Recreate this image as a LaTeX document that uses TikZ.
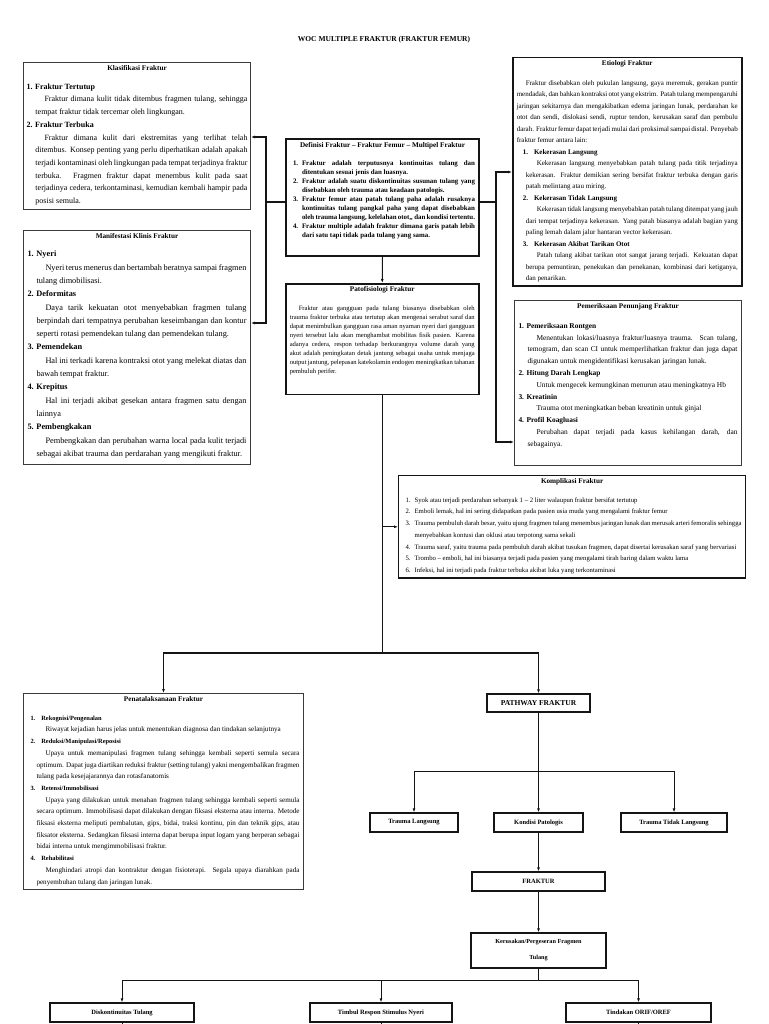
\documentclass[tikz,border=0pt]{standalone}
\usepackage{fontspec}
\setmainfont{Liberation Serif}
\usetikzlibrary{positioning,arrows.meta}
\definecolor{wocink}{HTML}{151515}
\definecolor{wocgray}{HTML}{3A3A3A}
\hyphenpenalty=10000
\exhyphenpenalty=10000
\tolerance=9000
\emergencystretch=30pt
\newcommand{\boxhead}[1]{\centerline{\textbf{#1}}\par}
\newcommand{\subhead}[1]{\noindent\textbf{#1}\par}
\newcommand{\subtext}[1]{{\leftskip=9pt\noindent\hspace*{9pt}#1\par}}
\newcommand{\numline}[2]{{\hangindent=12pt\hangafter=1\noindent\hspace*{3pt}\hbox to 9pt{#1\hss}#2\par}}
\newcommand{\boxtail}[1]{\par\vspace{#1}\hrule height 0pt}

\begin{document}
\begin{tikzpicture}[x=1pt,y=-1pt,
  infobox/.style={draw=wocgray,line width=1pt,anchor=north west,align=justify,inner xsep=4pt,inner ysep=3pt},
  flowbox/.style={draw=wocink,line width=1.3pt,font=\bfseries\fontsize{6.5}{8}\selectfont,minimum height=19pt,inner sep=1pt},
  link/.style={draw=wocink,line width=1pt},
  thicklink/.style={draw=wocink,line width=1.5pt},
  arr/.style={link,-{Latex[length=4pt,width=3pt]}}]
  \useasboundingbox (0,0) rectangle (768,1024);

  \node[font=\bfseries\fontsize{7.5}{9}\selectfont] (judul) at (384,40) {WOC MULTIPLE FRAKTUR (FRAKTUR FEMUR)};

  \node[infobox,inner xsep=3pt,text width=221pt,font=\fontsize{8.0}{12.7}\selectfont] (klasifikasi) at (23,62) {%
    \boxhead{\fontsize{7.2}{9}\selectfont Klasifikasi Fraktur}\vspace{6pt}
    \subhead{1. Fraktur Tertutup}
    \subtext{Fraktur dimana kulit tidak ditembus fragmen tulang, sehingga tempat fraktur tidak tercemar oleh lingkungan.}
    \subhead{2. Fraktur Terbuka}
    \subtext{Fraktur dimana kulit dari ekstremitas yang terlihat telah ditembus. Konsep penting yang perlu diperhatikan adalah apakah terjadi kontaminasi oleh lingkungan pada tempat terjadinya fraktur terbuka. Fragmen fraktur dapat menembus kulit pada saat terjadinya cedera, terkontaminasi, kemudian kembali hampir pada posisi semula.}
    \boxtail{1pt}};

  \node[infobox,text width=219pt,font=\fontsize{8.3}{13.3}\selectfont] (manifestasi) at (23,230) {%
    \boxhead{\fontsize{7.2}{9}\selectfont Manifestasi Klinis Fraktur}\vspace{5pt}
    \subhead{1. Nyeri}
    \subtext{Nyeri terus menerus dan bertambah beratnya sampai fragmen tulang dimobilisasi.}
    \subhead{2. Deformitas}
    \subtext{Daya tarik kekuatan otot menyebabkan fragmen tulang berpindah dari tempatnya perubahan keseimbangan dan kontur seperti rotasi pemendekan tulang dan pemendekan tulang.}
    \subhead{3. Pemendekan}
    \subtext{Hal ini terkadi karena kontraksi otot yang melekat diatas dan bawah tempat fraktur.}
    \subhead{4. Krepitus}
    \subtext{Hal ini terjadi akibat gesekan antara fragmen satu dengan lainnya}
    \subhead{5. Pembengkakan}
    \subtext{Pembengkakan dan perubahan warna local pada kulit terjadi sebagai akibat trauma dan perdarahan yang mengikuti fraktur.}
    \boxtail{3pt}};

  \node[infobox,draw=wocink,line width=2pt,text width=185pt,font=\bfseries\fontsize{6.9}{9}\selectfont] (definisi) at (285,138) {%
    \boxhead{\fontsize{7.2}{9}\selectfont Definisi Fraktur -- Fraktur Femur -- Multipel Fraktur}\vspace{9pt}
    \numline{1.}{Fraktur adalah terputusnya kontinuitas tulang dan ditentukan sesuai jenis dan luasnya.}
    \numline{2.}{Fraktur adalah suatu diskontinuitas susunan tulang yang disebabkan oleh trauma atau keadaan patologis.}
    \numline{3.}{Fraktur femur atau patah tulang paha adalah rusaknya kontinuitas tulang pangkal paha yang dapat disebabkan oleh trauma langsung, kelelahan otot,, dan kondisi tertentu.}
    \numline{4.}{Fraktur multiple adalah fraktur dimana garis patah lebih dari satu tapi tidak pada tulang yang sama.}
    \boxtail{14pt}};

  \node[infobox,draw=wocink,line width=1.5pt,text width=185pt,font=\fontsize{6.6}{8.9}\selectfont] (patofisiologi) at (285,283) {%
    \vspace*{3pt}\boxhead{\fontsize{7.2}{9}\selectfont Patofisiologi Fraktur}\vspace{7pt}
    \noindent\hspace*{9pt}Fraktur atau gangguan pada tulang biasanya disebabkan oleh trauma fraktur terbuka atau tertutup akan mengenai serabut saraf dan dapat menimbulkan gangguan rasa aman nyaman nyeri dari gangguan nyeri tersebut lalu akan menghambat mobilitas fisik pasien. Karena adanya cedera, respon terhadap berkurangnya volume darah yang akut adalah peningkatan detak jantung sebagai usaha untuk menjaga output jantung, pelepasan katekolamin endogen meningkatkan tahanan pembuluh perifer.
    \boxtail{17pt}};

  \node[infobox,draw=wocink,line width=1.5pt,text width=221pt,font=\fontsize{7.0}{11.5}\selectfont] (etiologi) at (512,57) {%
    \boxhead{\fontsize{7.2}{9}\selectfont Etiologi Fraktur}\vspace{8pt}
    \noindent\hspace*{9pt}Fraktur disebabkan oleh pukulan langsung, gaya meremuk, gerakan puntir mendadak, dan bahkan kontraksi otot yang ekstrim. Patah tulang mempengaruhi jaringan sekitarnya dan mengakibatkan edema jaringan lunak, perdarahan ke otot dan sendi, dislokasi sendi, ruptur tendon, kerusakan saraf dan pembulu darah. Fraktur femur dapat terjadi mulai dari proksimal sampai distal. Penyebab fraktur femur antara lain:\par
    \subhead{\hspace*{6pt}1.\hspace{6pt}Kekerasan Langsung}
    \subtext{\hspace*{2pt}Kekerasan langsung menyebabkan patah tulang pada titik terjadinya kekerasan. Fraktur demikian sering bersifat fraktur terbuka dengan garis patah melintang atau miring.}
    \subhead{\hspace*{6pt}2.\hspace{6pt}Kekerasan Tidak Langsung}
    \subtext{\hspace*{2pt}Kekerasan tidak langsung menyebabkan patah tulang ditempat yang jauh dari tempat terjadinya kekerasan. Yang patah biasanya adalah bagian yang paling lemah dalam jalur hantaran vector kekerasan.}
    \subhead{\hspace*{6pt}3.\hspace{6pt}Kekerasan Akibat Tarikan Otot}
    \subtext{\hspace*{2pt}Patah tulang akibat tarikan otot sangat jarang terjadi. Kekuatan dapat berupa pemuntiran, penekukan dan penekanan, kombinasi dari ketiganya, dan penarikan.}
    \boxtail{1pt}};

  \node[infobox,text width=219pt,font=\fontsize{7.4}{11.8}\selectfont] (pemeriksaan) at (514,300) {%
    \boxhead{\fontsize{7.2}{9}\selectfont Pemeriksaan Penunjang Fraktur}\vspace{8pt}
    \subhead{1. Pemeriksaan Rontgen}
    \subtext{Menentukan lokasi/luasnya fraktur/luasnya trauma. Scan tulang, temogram, dan scan CI untuk memperlihatkan fraktur dan juga dapat digunakan untuk mengidentifikasi kerusakan jaringan lunak.}
    \subhead{2. Hitung Darah Lengkap}
    \subtext{Untuk mengecek kemungkinan menurun atau meningkatnya Hb}
    \subhead{3. Kreatinin}
    \subtext{Trauma otot meningkatkan beban kreatinin untuk ginjal}
    \subhead{4. Profil Koagluasi}
    \subtext{Perubahan dapat terjadi pada kasus kehilangan darah, dan sebagainya.}
    \boxtail{15pt}};

  \node[infobox,draw=wocink,line width=1.2pt,text width=339pt,font=\fontsize{6.7}{11.7}\selectfont] (komplikasi) at (398,475) {%
    \boxhead{\fontsize{7.2}{9}\selectfont Komplikasi Fraktur}\vspace{7pt}
    \numline{1.}{Syok atau terjadi perdarahan sebanyak 1 -- 2 liter walaupun fraktur bersifat tertutup}
    \numline{2.}{Emboli lemak, hal ini sering didapatkan pada pasien usia muda yang mengalami fraktur femur}
    \numline{3.}{Trauma pembuluh darah besar, yaitu ujung fragmen tulang menembus jaringan lunak dan merusak arteri femoralis sehingga menyebabkan kontusi dan oklusi atau terpotong sama sekali}
    \numline{4.}{Trauma saraf, yaitu trauma pada pembuluh darah akibat tusukan fragmen, dapat disertai kerusakan saraf yang bervariasi}
    \numline{5.}{Trombo -- emboli, hal ini biasanya terjadi pada pasien yang mengalami tirah baring dalam waktu lama}
    \numline{6.}{Infeksi, hal ini terjadi pada fraktur terbuka akibat luka yang terkontaminasi}
    \boxtail{1pt}};

  \node[infobox,text width=272pt,font=\fontsize{7.1}{11.7}\selectfont] (penatalaksanaan) at (23,693) {%
    \boxhead{\fontsize{7.2}{9}\selectfont Penatalaksanaan Fraktur}\vspace{7pt}
    \subhead{\fontsize{6.4}{11.7}\selectfont\hspace*{3pt}1.\hspace{6pt}Rekognisi/Pengenalan}
    \subtext{Riwayat kejadian harus jelas untuk menentukan diagnosa dan tindakan selanjutnya}
    \subhead{\fontsize{6.4}{11.7}\selectfont\hspace*{3pt}2.\hspace{6pt}Reduksi/Manipulasi/Reposisi}
    \subtext{Upaya untuk memanipulasi fragmen tulang sehingga kembali seperti semula secara optimum. Dapat juga diartikan reduksi fraktur (setting tulang) yakni mengembalikan fragmen tulang pada kesejajarannya dan rotasfanatomis}
    \subhead{\fontsize{6.4}{11.7}\selectfont\hspace*{3pt}3.\hspace{6pt}Retensi/Immobilisasi}
    \subtext{Upaya yang dilakukan untuk menahan fragmen tulang sehingga kembali seperti semula secara optimum. Immobilisasi dapat dilakukan dengan fiksasi eksterna atau interna. Metode fiksasi eksterna meliputi pembalutan, gips, bidai, traksi kontinu, pin dan teknik gips, atau fiksator eksterna. Sedangkan fiksasi interna dapat berupa input logam yang berperan sebagai bidai interna untuk mengimmobilisasi fraktur.}
    \subhead{\fontsize{6.4}{11.7}\selectfont\hspace*{3pt}4.\hspace{6pt}Rehabilitasi}
    \subtext{Menghindari atropi dan kontraktur dengan fisioterapi. Segala upaya diarahkan pada penyembuhan tulang dan jaringan lunak.}
    \boxtail{1pt}};

  \node[flowbox,minimum width=103pt,minimum height=18pt,font=\bfseries\fontsize{7.5}{9}\selectfont] (pathway) at (538.5,703) {PATHWAY FRAKTUR};
  \node[flowbox,minimum width=88pt] (tlangsung) at (414,822.5) {Trauma Langsung};
  \node[flowbox,minimum width=89pt] (patologis) at (538.5,822.5) {Kondisi Patologis};
  \node[flowbox,minimum width=106pt] (tdklangsung) at (674,822.5) {Trauma Tidak Langsung};
  \node[flowbox,minimum width=133pt] (fraktur) at (538.5,881.5) {FRAKTUR};
  \node[flowbox,minimum width=135pt,minimum height=35pt,align=center,font=\bfseries\fontsize{6.2}{16}\selectfont] (kerusakan) at (538.5,950.5) {Kerusakan/Pergeseran Fragmen\\Tulang};
  \node[flowbox,minimum width=144pt] (diskontinuitas) at (122,1012.5) {Diskontinuitas Tulang};
  \node[flowbox,minimum width=142pt] (nyeri) at (381,1012.5) {Timbul Respon Stimulus Nyeri};
  \node[flowbox,minimum width=145pt] (orif) at (638.5,1012.5) {Tindakan ORIF/OREF};

  \coordinate (lj) at (266,202);
  \coordinate (rj) at (496,202);
  \coordinate (kin) at (klasifikasi.east |- 0,137);
  \coordinate (min) at (manifestasi.east |- 0,323);
  \coordinate (ein) at (etiologi.west |- 0,172);
  \coordinate (pin) at (pemeriksaan.west |- 0,442);
  \coordinate (bj) at (patofisiologi.south |- 0,653);
  \coordinate (pj) at (pathway.south |- 0,771);
  \coordinate (kj) at (kerusakan.south |- 0,980);
  \coordinate (bawah) at (0,1024);

  \draw[thicklink] (definisi.west |- lj) -- (lj);
  \draw[arr,line width=1.3pt] (lj) |- (kin);
  \draw[arr,line width=1.3pt] (lj) |- (min);
  \draw[thicklink] (definisi.east |- rj) -- (rj);
  \draw[arr,line width=1.3pt] (rj) |- (ein);
  \draw[arr,line width=1.3pt] (rj) |- (pin);
  \draw[arr] (definisi.south) -- (patofisiologi.north);
  \draw[link] (patofisiologi.south) -- (bj);
  \draw[arr] (patofisiologi.south |- komplikasi.west) -- (komplikasi.west);
  \draw[arr,line width=1.2pt] (bj) -| (penatalaksanaan.north);
  \draw[arr,line width=1.2pt] (bj) -| (pathway.north);

  \draw[link,line width=1.3pt] (pathway.south) -- (pj);
  \draw[arr] (pj) -| (tlangsung.north);
  \draw[arr] (pj) -- (patologis.north);
  \draw[arr] (pj) -| (tdklangsung.north);
  \draw[arr] (patologis.south) -- (fraktur.north);
  \draw[arr] (fraktur.south) -- (kerusakan.north);
  \draw[link] (kerusakan.south) -- (kj);
  \draw[arr] (kj) -| (diskontinuitas.north);
  \draw[arr] (kj) -| (nyeri.north);
  \draw[arr] (kj) -| (orif.north);
  \draw[link] (diskontinuitas.south) -- (diskontinuitas.south |- bawah);
  \draw[link] (nyeri.south) -- (nyeri.south |- bawah);
  \draw[link] (orif.south) -- (orif.south |- bawah);
\end{tikzpicture}
\end{document}
